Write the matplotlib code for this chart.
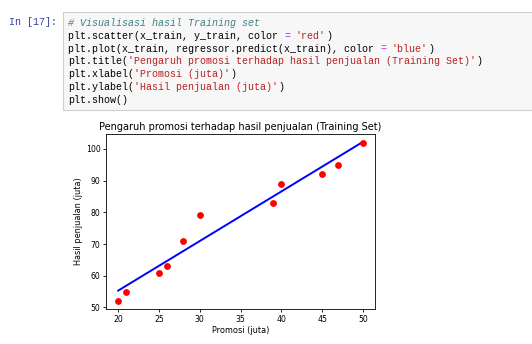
import matplotlib.pyplot as plt
from matplotlib.patches import Rectangle

# -- Data
x_train = [20, 21, 25, 26, 28, 30, 39, 40, 45, 47, 50]
y_train = [52, 55, 61, 63, 71, 79, 83, 89, 92, 95, 102]
line_x = [20, 50]
line_y = [55.3, 102.2]

title = 'Pengaruh promosi terhadap hasil penjualan (Training Set)'
xlabel = 'Promosi (juta)'
ylabel = 'Hasil penjualan (juta)'

# -- Code cell, as (text, colour) tokens per line
BLACK, RED, PURPLE, GREEN = '#000000', '#BA2121', '#AA22FF', '#408080'
code_lines = [
    [("# Visualisasi hasil Training set", GREEN)],
    [("plt.scatter(x_train, y_train, color ", BLACK), ("=", PURPLE), (" ", BLACK),
     ("'red'", RED), (")", BLACK)],
    [("plt.plot(x_train, regressor.predict(x_train), color ", BLACK), ("=", PURPLE),
     (" ", BLACK), ("'blue'", RED), (")", BLACK)],
    [("plt.title(", BLACK), ("'Pengaruh promosi terhadap hasil penjualan (Training Set)'", RED),
     (")", BLACK)],
    [("plt.xlabel(", BLACK), ("'Promosi (juta)'", RED), (")", BLACK)],
    [("plt.ylabel(", BLACK), ("'Hasil penjualan (juta)'", RED), (")", BLACK)],
    [("plt.show()", BLACK)],
]

W, H = 532, 344
fig = plt.figure(figsize=(W / 100, H / 100), dpi=100)

# cell box
fig.patches.append(Rectangle((63 / W, 1 - 110 / H), 475 / W, 98 / H,
                             transform=fig.transFigure, facecolor='#f7f7f7',
                             edgecolor='#cfcfcf', linewidth=0.8))
fig.text(9 / W, 1 - 22 / H, 'In [17]:', color='#303F9F', fontsize=7.2,
         family='Liberation Mono', va='center', ha='left')

code_fs = 7.2
char_w = code_fs * 0.6 * 100 / 72  # monospace advance in pixels
for row, tokens in enumerate(code_lines):
    y = 1 - (23 + row * 12.8) / H
    i = 0
    for txt, col in tokens:
        if txt.strip():
            fig.text((68 + i * char_w) / W, y, txt, color=col, fontsize=code_fs,
                     family='Liberation Mono', va='center', ha='left',
                     style='italic' if col == GREEN else 'normal')
        i += len(txt)

# -- Plot
ax = fig.add_axes([106 / W, 1 - 309 / H, 269 / W, 175 / H])
ax.scatter(x_train, y_train, color='red', s=15, zorder=3)
ax.plot(line_x, line_y, color='blue', linewidth=1.4)
ax.set_title(title, fontsize=7.0, pad=3)
ax.set_xlabel(xlabel, fontsize=5.9, labelpad=2)
ax.set_ylabel(ylabel, fontsize=5.9, labelpad=2)
ax.set_xticks([20, 25, 30, 35, 40, 45, 50])
ax.set_yticks([50, 60, 70, 80, 90, 100])
ax.tick_params(labelsize=5.6, length=2.5, width=0.6, pad=1.5)
for s in ax.spines.values():
    s.set_linewidth(0.6)

fig.savefig('out.png', dpi=100)
